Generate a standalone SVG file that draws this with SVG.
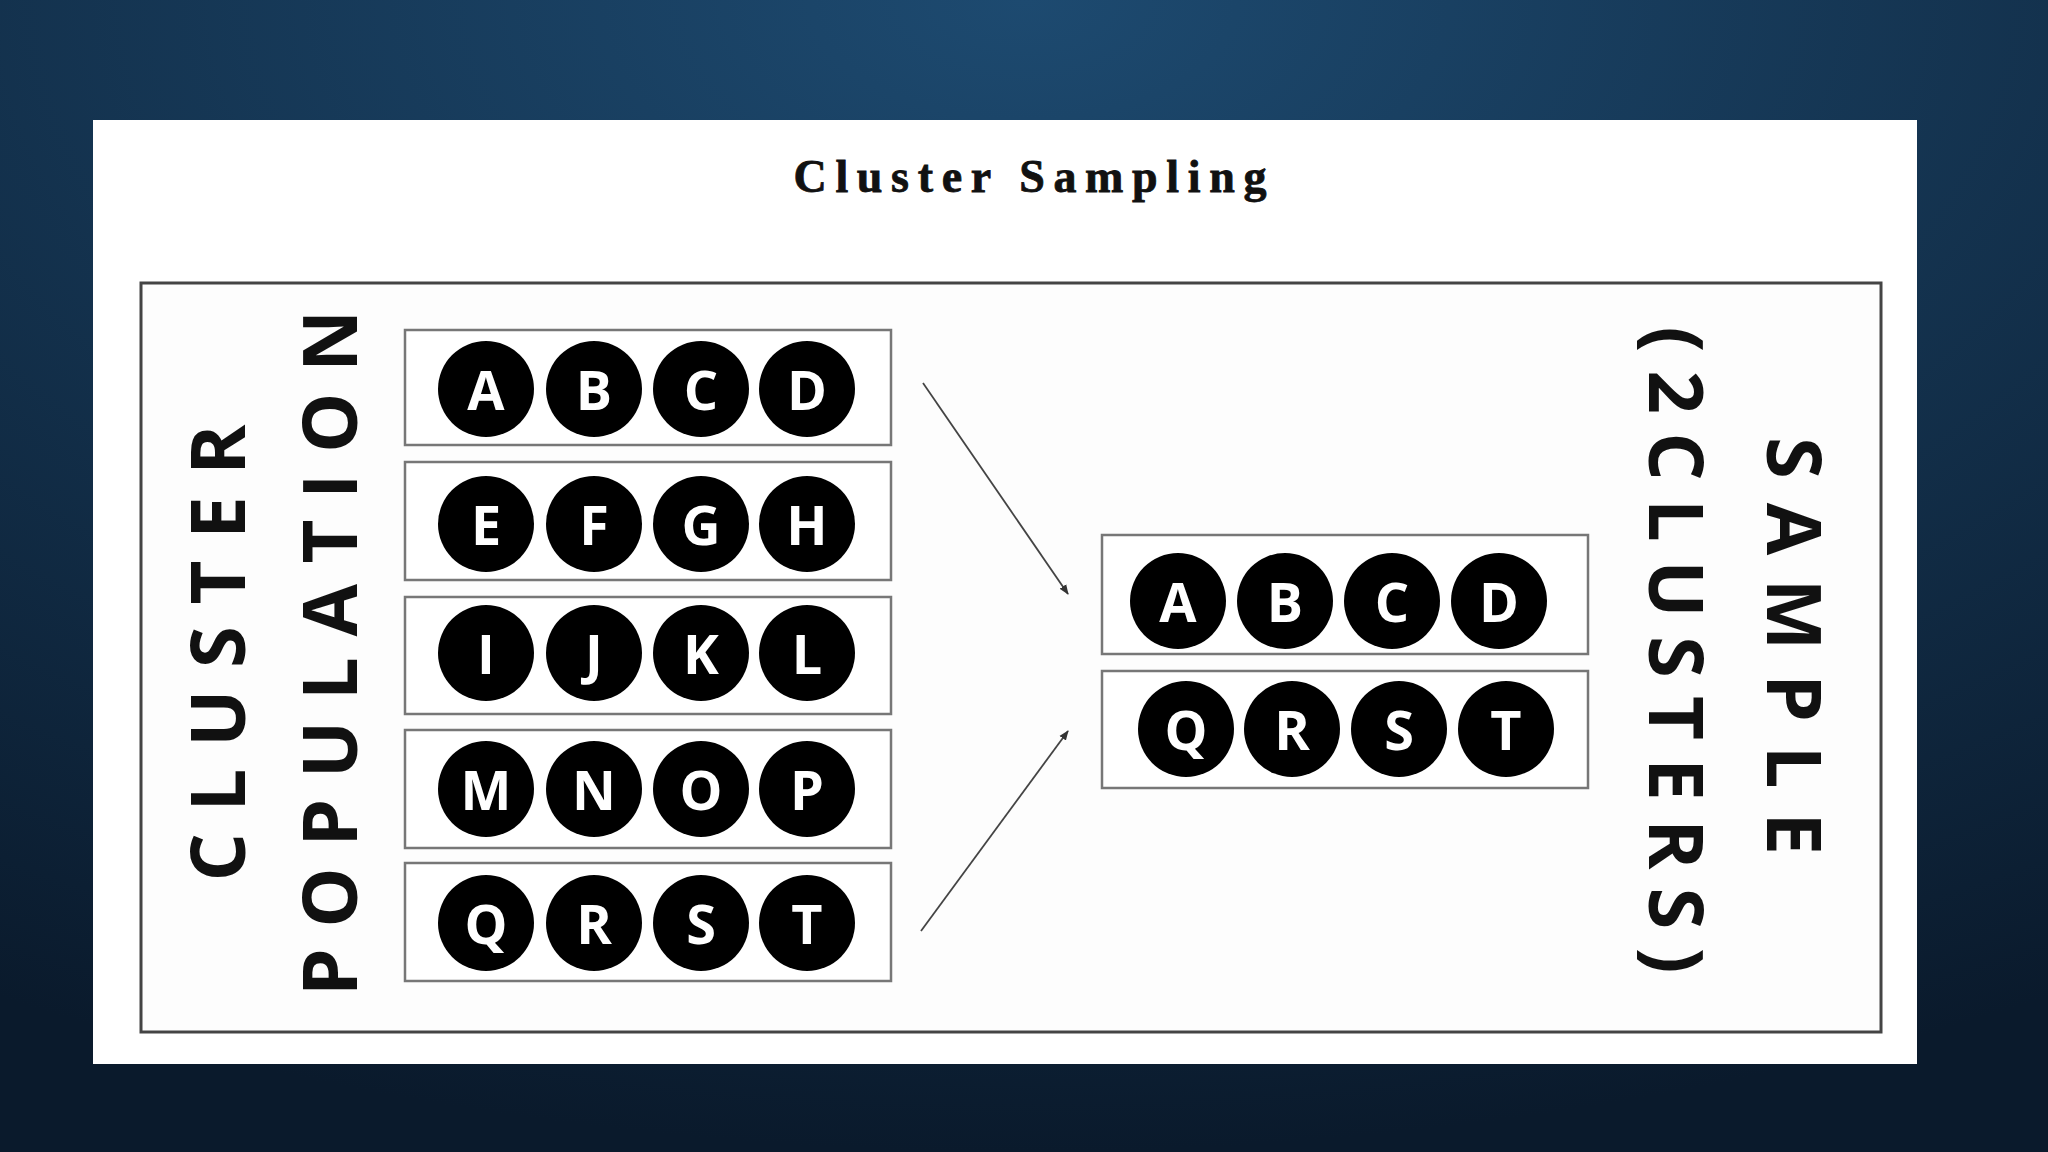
<svg xmlns="http://www.w3.org/2000/svg" width="2048" height="1152" viewBox="0 0 2048 1152">
<defs>
<radialGradient id="bg" cx="0.5" cy="0" r="1">
<stop offset="0" stop-color="#1d4a70"/><stop offset="1" stop-color="#0a1a2c"/>
</radialGradient>
<marker id="ah" markerWidth="10" markerHeight="10" refX="9" refY="5" orient="auto" markerUnits="userSpaceOnUse"><path d="M0,1 L10,5 L0,9 Z" fill="#333"/></marker>
</defs>
<style>
.box{fill:#fff;stroke:#777;stroke-width:2.5}
.c{fill:#000}
.l{fill:#fff;font-family:"Open Sans",sans-serif;font-weight:bold;font-size:54px;text-anchor:middle;dominant-baseline:central}
.v{fill:#111;font-family:"Open Sans",sans-serif;font-weight:bold;font-size:76px;text-anchor:middle;dominant-baseline:central}
</style>
<rect width="2048" height="1152" fill="url(#bg)"/>
<rect x="93" y="120" width="1824" height="944" fill="#fff"/>
<text x="1030" y="176" font-family="Liberation Serif,serif" font-weight="bold" font-size="46" text-anchor="middle" dominant-baseline="central" fill="#111" stroke="#111" stroke-width="0.8" textLength="473" lengthAdjust="spacing">Cluster Sampling</text>
<rect x="141" y="283" width="1740" height="749" fill="#fdfdfd" stroke="#444" stroke-width="3"/>
<g id="labels">
<text class="v" transform="translate(215,653) rotate(-90)" textLength="457" lengthAdjust="spacing">CLUSTER</text>
<text class="v" transform="translate(327,653) rotate(-90)" textLength="686" lengthAdjust="spacing">POPULATION</text>
<text class="v" transform="translate(1796,646) rotate(90)" textLength="418" lengthAdjust="spacing">SAMPLE</text>
<text class="v" transform="translate(1678,650) rotate(90)" textLength="647" lengthAdjust="spacing">(2CLUSTERS)</text>
</g>
<g id="c1"><rect class="box" x="405" y="330" width="486" height="115"/>
<circle class="c" cx="486" cy="389" r="48"/><circle class="c" cx="594" cy="389" r="48"/><circle class="c" cx="701" cy="389" r="48"/><circle class="c" cx="807" cy="389" r="48"/>
<text class="l" x="486" y="389">A</text><text class="l" x="594" y="389">B</text><text class="l" x="701" y="389">C</text><text class="l" x="807" y="389">D</text></g>
<g id="c2"><rect class="box" x="405" y="462" width="486" height="118"/>
<circle class="c" cx="486" cy="524" r="48"/><circle class="c" cx="594" cy="524" r="48"/><circle class="c" cx="701" cy="524" r="48"/><circle class="c" cx="807" cy="524" r="48"/>
<text class="l" x="486" y="524">E</text><text class="l" x="594" y="524">F</text><text class="l" x="701" y="524">G</text><text class="l" x="807" y="524">H</text></g>
<g id="c3"><rect class="box" x="405" y="597" width="486" height="117"/>
<circle class="c" cx="486" cy="653" r="48"/><circle class="c" cx="594" cy="653" r="48"/><circle class="c" cx="701" cy="653" r="48"/><circle class="c" cx="807" cy="653" r="48"/>
<text class="l" x="486" y="653">I</text><text class="l" x="594" y="653">J</text><text class="l" x="701" y="653">K</text><text class="l" x="807" y="653">L</text></g>
<g id="c4"><rect class="box" x="405" y="730" width="486" height="118"/>
<circle class="c" cx="486" cy="789" r="48"/><circle class="c" cx="594" cy="789" r="48"/><circle class="c" cx="701" cy="789" r="48"/><circle class="c" cx="807" cy="789" r="48"/>
<text class="l" x="486" y="789">M</text><text class="l" x="594" y="789">N</text><text class="l" x="701" y="789">O</text><text class="l" x="807" y="789">P</text></g>
<g id="c5"><rect class="box" x="405" y="863" width="486" height="118"/>
<circle class="c" cx="486" cy="923" r="48"/><circle class="c" cx="594" cy="923" r="48"/><circle class="c" cx="701" cy="923" r="48"/><circle class="c" cx="807" cy="923" r="48"/>
<text class="l" x="486" y="923">Q</text><text class="l" x="594" y="923">R</text><text class="l" x="701" y="923">S</text><text class="l" x="807" y="923">T</text></g>
<g id="s1"><rect class="box" x="1102" y="535" width="486" height="119"/>
<circle class="c" cx="1178" cy="601" r="48"/><circle class="c" cx="1285" cy="601" r="48"/><circle class="c" cx="1392" cy="601" r="48"/><circle class="c" cx="1499" cy="601" r="48"/>
<text class="l" x="1178" y="601">A</text><text class="l" x="1285" y="601">B</text><text class="l" x="1392" y="601">C</text><text class="l" x="1499" y="601">D</text></g>
<g id="s2"><rect class="box" x="1102" y="671" width="486" height="117"/>
<circle class="c" cx="1186" cy="729" r="48"/><circle class="c" cx="1292" cy="729" r="48"/><circle class="c" cx="1399" cy="729" r="48"/><circle class="c" cx="1506" cy="729" r="48"/>
<text class="l" x="1186" y="729">Q</text><text class="l" x="1292" y="729">R</text><text class="l" x="1399" y="729">S</text><text class="l" x="1506" y="729">T</text></g>
<g id="connectors" stroke="#444" stroke-width="1.8" fill="none">
<line x1="923" y1="383" x2="1068" y2="594" marker-end="url(#ah)"/>
<line x1="921" y1="931" x2="1068" y2="731" marker-end="url(#ah)"/>
</g>
</svg>
